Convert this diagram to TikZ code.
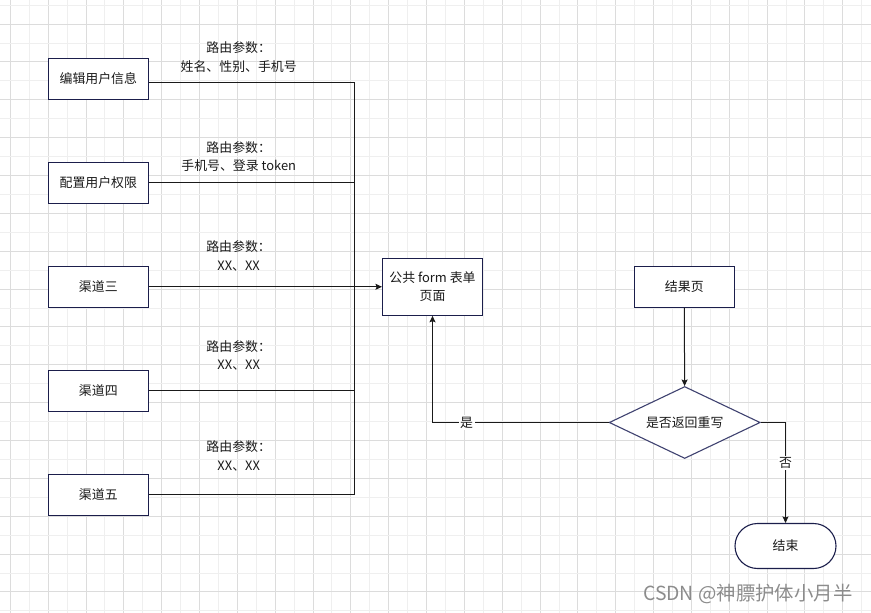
\documentclass[tikz,border=0pt]{standalone}
\usepackage{fontspec}
\setmainfont{Noto Sans CJK SC}
\usetikzlibrary{shapes.geometric, arrows.meta, positioning}
\definecolor{boxline}{HTML}{1B1E4B}
\definecolor{dialine}{HTML}{3F4270}
\definecolor{linecol}{HTML}{1A1A1A}
\definecolor{gridlight}{HTML}{EFEFEF}
\definecolor{griddark}{HTML}{DCDCDC}
\tikzstyle{process} = [rectangle, minimum width=100pt, minimum height=41pt, text centered, align=center, draw=boxline, fill=white, line width=1.1pt, text=linecol]
\tikzstyle{decision} = [diamond, minimum width=151pt, minimum height=72pt, aspect=2.1, inner sep=0pt, draw=dialine, fill=white, line width=1.1pt, text=linecol]
\tikzstyle{terminal} = [rectangle, rounded corners=22.5pt, minimum width=101pt, minimum height=45pt, draw=boxline, fill=white, line width=1.1pt, text=linecol]
\tikzstyle{line} = [line width=1pt, draw=linecol]
\tikzstyle{arrow} = [line width=1pt, draw=linecol, -{Stealth[length=6.5pt,width=6pt,inset=1.2pt]}]
\tikzstyle{param} = [align=center, inner sep=0pt, text=linecol]
\tikzstyle{answer} = [fill=white, inner sep=1.5pt, text=linecol]

\begin{document}
\begin{tikzpicture}[x=1pt, y=-1pt, node distance=104pt, font=\fontsize{12.9}{18.5}\selectfont]
        \useasboundingbox (0,0) rectangle (871,613);
        % grid
        \foreach \k in {0,...,45} {
            \ifodd\k \def\gc{gridlight}\else \def\gc{griddark}\fi
            \draw[\gc, line width=0.9pt] (10.3+\k*18.92,0) -- (10.3+\k*18.92,613);
        }
        \foreach \k in {0,...,32} {
            \ifodd\k \def\gc{griddark}\else \def\gc{gridlight}\fi
            \draw[\gc, line width=0.9pt] (0,5.1+\k*18.93) -- (871,5.1+\k*18.93);
        }

        \node (n1) [process] at (98.3,78.8) {编辑用户信息};
        \node (n2) [process, below of=n1] {配置用户权限};
        \node (n3) [process, below of=n2] {渠道三};
        \node (n4) [process, below of=n3] {渠道四};
        \node (n5) [process, below of=n4] {渠道五};
        \coordinate (bus) at (354.5,0);

        \node (form) [process, minimum height=57pt] at (432.5,286.8) {公共 form 表单\\页面};
        \node (result) [process] at (684.3,286.8) {结果页};
        \node (ask) [decision] at (684.7,422.5) {是否返回重写};
        \node (finish) [terminal] at (785.5,546) {结束};

        \draw [line] ([yshift=-3.7pt]n1.east) -- node[param, pos=0.437, yshift=25.3pt] (p1) {路由参数：\\姓名、性别、手机号} ([yshift=-3.7pt]n1.east -| bus) -- (n5.east -| bus);
        \draw [line] (n2.east) -- node[param, pos=0.437, yshift=26.3pt] (p2) {路由参数：\\手机号、登录 token} (n2.east -| bus);
        \draw [arrow] (n3.east) -- node[param, pos=0.385, yshift=31pt] (p3) {路由参数：\\XX、XX} (form);
        \draw [line] (n4.east) -- node[param, pos=0.437, yshift=35.3pt] (p4) {路由参数：\\XX、XX} (n4.east -| bus);
        \draw [line] (n5.east) -- node[param, pos=0.437, yshift=38.9pt] (p5) {路由参数：\\XX、XX} (n5.east -| bus);

        \draw [arrow] (result) -- (ask);
        \draw [arrow] (ask.west) -| node[answer, pos=0.403] (yes) {是} (form.south);
        \draw [arrow] (ask.east) -| node[answer, pos=0.70] (no) {否} (finish.north);

        \node (mark) [anchor=east, text=black!45, font=\fontsize{19.4}{19.4}\selectfont] at (856,594) {CSDN @神膘护体小月半};
    \end{tikzpicture}
\end{document}
